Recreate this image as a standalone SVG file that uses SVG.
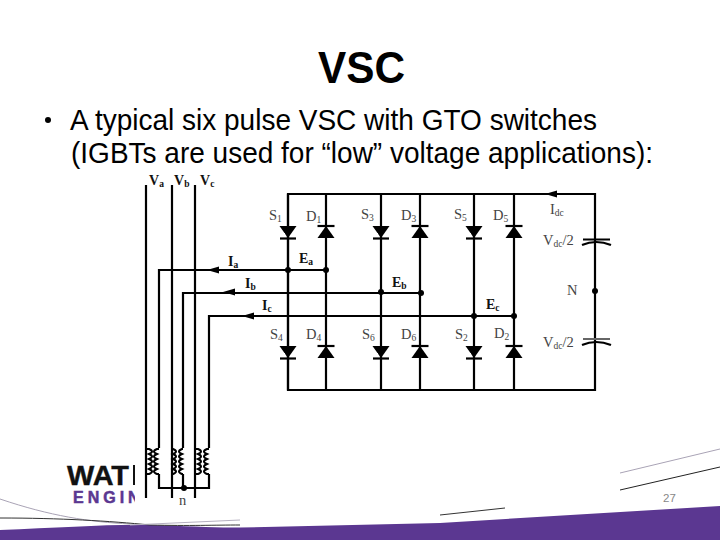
<svg xmlns="http://www.w3.org/2000/svg" width="720" height="540" viewBox="0 0 720 540">
<style>
.w{fill:none;stroke:#000;stroke-width:2.200}
.c{fill:none;stroke:#000;stroke-width:2}
.f{fill:#000;stroke:none}
.l{font-family:"Liberation Serif",serif;font-size:14.500px;fill:#444}
.b{font-family:"Liberation Serif",serif;font-size:14px;font-weight:700;fill:#111}
.s{font-size:9.500px}
.h{font-family:"Liberation Sans",Arial,sans-serif;fill:#000}
</style>
<defs>
<g id="sw"><path class="f" d="M-8.500 0H8.500L0 12Z"/><path class="w" d="M-8 12.500H8"/><path d="M-9 8L-5 5M-6 10L-3 7" stroke="#fff" stroke-width="1" fill="none"/></g>
<g id="di"><path class="f" d="M-8.500 12H8.500L0 0Z"/><path class="w" d="M-8.500 0H8.500"/></g>
<path id="ar" class="f" d="M0 0L12 -3.500V3.500Z"/>
</defs>
<rect width="720" height="540" fill="#fff"/>
<g id="background">
<path d="M0 530C60 528 110 524 150 525C190 526 215 528 240 527.500L440 523L720 506V540H0Z" fill="#5b3791"/>
<path d="M0 499C50 516 90 522 130 524" fill="none" stroke="#a9a3b5" stroke-width="1"/>
<path d="M0 518C60 518 110 521 150 525C190 526 215 525 240 525" fill="none" stroke="#333" stroke-width="1"/>
<path d="M240 520L130 525" fill="none" stroke="#b5b0c0" stroke-width="1"/>
<path d="M440 515L505 508" fill="none" stroke="#333" stroke-width="1"/>
<path d="M620 473L720 449" fill="none" stroke="#a9a3b5" stroke-width="1"/>
<path d="M620 490L720 467" fill="none" stroke="#222" stroke-width="1"/>
<text x="669.500" y="502" text-anchor="middle" font-family="'Liberation Sans',sans-serif" font-size="11.500" fill="#888">27</text>
</g>
<g id="logo">
<text x="67" y="485" font-family="'Liberation Sans',sans-serif" font-weight="700" font-size="27.500" textLength="62" lengthAdjust="spacingAndGlyphs" fill="#111" stroke="#111" stroke-width=".4">WAT</text>
<rect x="133" y="465" width="2" height="20" fill="#111"/>
<clipPath id="lc"><rect x="60" y="485" width="75" height="25"/></clipPath>
<text x="73" y="503" clip-path="url(#lc)" font-family="'Liberation Sans',sans-serif" font-weight="700" font-size="16" letter-spacing="4" fill="#5b3791" stroke="#5b3791" stroke-width=".5">ENGIN</text>
</g>
<g id="title"><text class="h" x="318" y="83" font-size="45" font-weight="700" textLength="87" lengthAdjust="spacingAndGlyphs">VSC</text></g>
<g id="body">
<circle cx="48" cy="120" r="3" fill="#000"/>
<text class="h" x="70" y="130" font-size="29" textLength="527" lengthAdjust="spacingAndGlyphs">A typical six pulse VSC with GTO switches</text>
<text class="h" x="71" y="163" font-size="29" textLength="582" lengthAdjust="spacingAndGlyphs">(IGBTs are used for “low” voltage applications):</text>
</g>
<g id="connectors">
<path class="w" d="M288 194H595V390H288Z"/>
<path class="w" d="M288 194V390M326 194V390M381 194V390M420 194V390M474 194V390M514 194V390"/>
<path class="w" d="M326 270H159V448M421 293H183V448M514 316H209V448"/>
<path class="w" d="M146 185V498M172 185V498M195 185V498"/>
<path class="w" d="M159 474V488H209V474M183 474V488"/>
<use href="#ar" x="207" y="270"/><use href="#ar" x="223" y="292"/><use href="#ar" x="242" y="316"/><use href="#ar" x="545" y="194"/>
<g class="f"><circle cx="288" cy="270" r="3"/><circle cx="326" cy="270" r="3"/><circle cx="381" cy="292" r="3"/><circle cx="421" cy="293" r="3"/><circle cx="474" cy="316" r="3"/><circle cx="514" cy="316" r="3"/><circle cx="595" cy="291" r="3"/></g>
</g>
<g id="S1"><use href="#sw" x="288" y="226"/><text class="l" x="269" y="220">S<tspan class="s" dy="2">1</tspan></text></g>
<g id="D1"><use href="#di" x="326" y="226"/><text class="l" x="306" y="221">D<tspan class="s" dy="2">1</tspan></text></g>
<g id="S3"><use href="#sw" x="381" y="226"/><text class="l" x="361" y="219">S<tspan class="s" dy="2">3</tspan></text></g>
<g id="D3"><use href="#di" x="420" y="226"/><text class="l" x="401" y="220">D<tspan class="s" dy="2">3</tspan></text></g>
<g id="S5"><use href="#sw" x="474" y="226"/><text class="l" x="454" y="219">S<tspan class="s" dy="2">5</tspan></text></g>
<g id="D5"><use href="#di" x="514" y="226"/><text class="l" x="493" y="220">D<tspan class="s" dy="2">5</tspan></text></g>
<g id="S4"><use href="#sw" x="288" y="346"/><text class="l" x="270" y="339">S<tspan class="s" dy="2">4</tspan></text></g>
<g id="D4"><use href="#di" x="326" y="346"/><text class="l" x="306" y="339">D<tspan class="s" dy="2">4</tspan></text></g>
<g id="S6"><use href="#sw" x="381" y="346"/><text class="l" x="362" y="339">S<tspan class="s" dy="2">6</tspan></text></g>
<g id="D6"><use href="#di" x="420" y="346"/><text class="l" x="401" y="339">D<tspan class="s" dy="2">6</tspan></text></g>
<g id="S2"><use href="#sw" x="474" y="346"/><text class="l" x="455" y="339">S<tspan class="s" dy="2">2</tspan></text></g>
<g id="D2"><use href="#di" x="514" y="346"/><text class="l" x="494" y="338">D<tspan class="s" dy="2">2</tspan></text></g>
<g id="Cup"><path class="w" d="M583 239.500H610M582 245Q596 239 611 245"/><text class="l" x="543" y="245">V<tspan class="s" dy="2">dc</tspan><tspan dy="-2">/2</tspan></text></g>
<g id="Clo"><path d="M583 339H610" fill="none" stroke="#666" stroke-width="2"/><path class="w" d="M582 345Q596 339 611 345"/><text class="l" x="543" y="347">V<tspan class="s" dy="2">dc</tspan><tspan dy="-2">/2</tspan></text></g>
<g id="T1"><path class="c" d="M146 449H149q6 2.500 0 5q6 2.500 0 5q6 2.500 0 5q6 2.500 0 5q6 2.500 0 5H146M159 449H157q-6 2.500 0 5q-6 2.500 0 5q-6 2.500 0 5q-6 2.500 0 5q-6 2.500 0 5H159"/></g>
<g id="T2"><path class="c" d="M172 449H173q6 2.500 0 5q6 2.500 0 5q6 2.500 0 5q6 2.500 0 5q6 2.500 0 5H172M183 449H182q-6 2.500 0 5q-6 2.500 0 5q-6 2.500 0 5q-6 2.500 0 5q-6 2.500 0 5H183"/></g>
<g id="T3"><path class="c" d="M195 449H198q6 2.500 0 5q6 2.500 0 5q6 2.500 0 5q6 2.500 0 5q6 2.500 0 5H195M209 449H207q-6 2.500 0 5q-6 2.500 0 5q-6 2.500 0 5q-6 2.500 0 5q-6 2.500 0 5H209"/></g>
<g id="n"><circle cx="184" cy="488" r="3" fill="#000"/><text class="l" x="179" y="505">n</text></g>
<g id="labels">
<text class="b" x="149" y="185">V<tspan class="s" dy="1.500">a</tspan></text>
<text class="b" x="174" y="185">V<tspan class="s" dy="1.500">b</tspan></text>
<text class="b" x="200" y="185">V<tspan class="s" dy="1.500">c</tspan></text>
<text class="b" x="228" y="266">I<tspan class="s" dy="1.500">a</tspan></text>
<text class="b" x="245" y="288">I<tspan class="s" dy="1.500">b</tspan></text>
<text class="b" x="262" y="310">I<tspan class="s" dy="1.500">c</tspan></text>
<text class="b" x="299" y="263">E<tspan class="s" dy="1.500">a</tspan></text>
<text class="b" x="392" y="287">E<tspan class="s" dy="1.500">b</tspan></text>
<text class="b" x="486" y="309">E<tspan class="s" dy="1.500">c</tspan></text>
<text class="l" x="550" y="214">I<tspan class="s" dy="2">dc</tspan></text>
<text class="l" x="567" y="295">N</text>
</g>
</svg>
